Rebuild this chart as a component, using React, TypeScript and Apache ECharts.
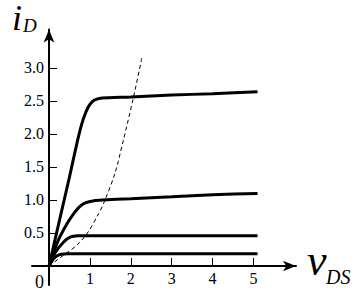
import React, { useEffect, useRef } from "react";
import * as echarts from "echarts";

const xTicks = [1, 2, 3, 4, 5];
const yTicks = [0.5, 1.0, 1.5, 2.0, 2.5, 3.0];

const curveTop: number[][] = [
  [0, 0], [0.24, 0.65], [0.49, 1.32], [0.69, 1.88], [0.8, 2.15], [0.9, 2.33], [0.98, 2.43],
  [1.06, 2.49], [1.15, 2.525], [1.3, 2.545], [2, 2.56], [3, 2.59], [4, 2.61], [5.1, 2.64],
];
const curveMid: number[][] = [
  [0, 0], [0.22, 0.38], [0.45, 0.65], [0.6, 0.79], [0.75, 0.9], [0.9, 0.96], [1.1, 0.99],
  [1.3, 1.0], [2, 1.02], [3, 1.05], [4, 1.08], [5.1, 1.1],
];
const curveLow: number[][] = [
  [0, 0], [0.15, 0.2], [0.37, 0.37], [0.53, 0.44], [0.7, 0.458], [0.9, 0.46], [5.1, 0.46],
];
const curveBottom: number[][] = [
  [0, 0], [0.1, 0.1], [0.2, 0.155], [0.3, 0.178], [0.45, 0.185], [5.1, 0.185],
];
const boundary: number[][] = [
  [0, 0], [0.37, 0.17], [0.69, 0.32], [0.94, 0.5], [1.22, 0.8], [1.37, 1.0],
  [1.61, 1.4], [1.82, 1.91], [2.06, 2.54], [2.27, 3.15],
];

const FONT = "Liberation Serif";

export default function App() {
  const ref = useRef<HTMLDivElement>(null);
  useEffect(() => {
    document.body.style.margin = "0";
    if (!ref.current) return;
    const chart = echarts.init(ref.current, null, { renderer: "svg" });
    const thick = (data: number[][]) => ({
      type: "line",
      data,
      showSymbol: false,
      smooth: 0.2,
      lineStyle: { color: "#000", width: 3 },
      z: 3,
    });
    chart.setOption({
      animation: false,
      backgroundColor: "#fff",
      grid: { left: 32, right: 63, top: 29.5, bottom: 17, containLabel: false },
      xAxis: {
        type: "value",
        min: -0.416,
        max: 6.04,
        offset: -19,
        splitLine: { show: false },
        axisLine: {
          show: true,
          onZero: false,
          symbol: ["none", "arrow"],
          symbolSize: [8, 13],
          lineStyle: { color: "#000", width: 2 },
        },
        axisTick: {
          show: true,
          inside: true,
          length: 8,
          customValues: xTicks,
          lineStyle: { color: "#000", width: 1 },
        },
        axisLabel: {
          customValues: xTicks,
          color: "#000",
          fontFamily: FONT,
          fontSize: 16,
          margin: 4,
          formatter: (v: number) => String(v),
        },
      },
      yAxis: {
        type: "value",
        min: -0.288,
        max: 3.583,
        offset: -17,
        splitLine: { show: false },
        axisLine: {
          show: true,
          onZero: false,
          symbol: ["none", "arrow"],
          symbolSize: [8, 13],
          lineStyle: { color: "#000", width: 2 },
        },
        axisTick: {
          show: true,
          inside: true,
          length: 8,
          customValues: yTicks,
          lineStyle: { color: "#000", width: 1 },
        },
        axisLabel: {
          customValues: yTicks,
          color: "#000",
          fontFamily: FONT,
          fontSize: 16,
          margin: 5,
          formatter: (v: number) => v.toFixed(1),
        },
      },
      series: [
        thick(curveTop),
        thick(curveMid),
        thick(curveLow),
        thick(curveBottom),
        {
          type: "line",
          data: boundary,
          showSymbol: false,
          smooth: 0.3,
          lineStyle: { color: "#000", width: 1, type: [4, 3] },
          z: 2,
        },
      ],
      graphic: [
        {
          type: "text",
          left: 35,
          top: 273,
          style: { text: "0", fontFamily: FONT, fontSize: 18, fill: "#000" },
        },
        {
          type: "text",
          left: 12,
          top: 0,
          style: {
            text: "i",
            fontFamily: FONT,
            fontStyle: "italic",
            fontSize: 36,
            lineHeight: 28,
            fill: "#000",
          },
        },
        {
          type: "text",
          left: 23,
          top: 16,
          style: { text: "D", fontFamily: FONT, fontStyle: "italic", fontSize: 19, fill: "#000" },
        },
        {
          type: "text",
          left: 307,
          top: 238,
          style: { text: "v", fontFamily: FONT, fontStyle: "italic", fontSize: 44, fill: "#000" },
        },
        {
          type: "text",
          left: 326,
          top: 267,
          style: { text: "DS", fontFamily: FONT, fontStyle: "italic", fontSize: 20, fill: "#000" },
        },
      ],
    });
    return () => chart.dispose();
  }, []);
  return <div ref={ref} style={{ width: 359, height: 302 }} />;
}
